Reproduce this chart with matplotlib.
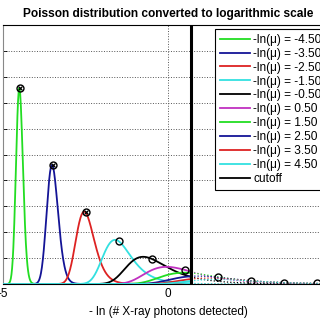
import math
import numpy as np
from matplotlib import pyplot as plt

plt.rcParams['font.family'] = ['Liberation Sans', 'DejaVu Sans']

# -ln(mu) for each Poisson curve (from the legend)
neg_ln_mu = [-4.5, -3.5, -2.5, -1.5, -0.5, 0.5, 1.5, 2.5, 3.5, 4.5]
colors = ['#22dd22', '#141496', '#dd2222', '#33e0e0', 'black',
          '#c030c0', '#22dd22', '#141496', '#dd2222', '#33e0e0']
cutoff = math.log(2)
x_ticks = [-5, 0, 5]
x_tick_labels = ['-5', '0', '']
y_ticks = np.arange(0, 5.01, 0.5)

lgamma = np.vectorize(math.lgamma)


def density(x, mu):
    # Poisson pmf with n = exp(-x), times dn/dx
    n = np.exp(-np.asarray(x, dtype=float))
    logp = n * np.log(mu) - mu - lgamma(n + 1)
    return n * np.exp(logp)


fig = plt.figure(figsize=(3.2, 3.2), dpi=100)
ax = fig.add_axes([3 / 320, 36 / 320, 330 / 320, 259 / 320])

x_in = np.linspace(-5, cutoff, 600)
x_out = np.linspace(cutoff, 5, 300)
for v, c in zip(neg_ln_mu, colors):
    mu = math.exp(-v)
    ax.plot(x_in, density(x_in, mu), color=c, lw=1.3,
            label='-ln(\u03bc) = %.2f' % v, zorder=3)
    ax.plot(x_out, density(x_out, mu), color=c, lw=0.9, ls=':', zorder=2)

peaks = [float(density(v, math.exp(-v))) for v in neg_ln_mu]
ax.plot(neg_ln_mu, peaks, 'o', mfc='none', mec='black', ms=5, mew=1.0, zorder=4)
ax.plot(neg_ln_mu[:3], peaks[:3], 'x', color='black', ms=3.5, mew=0.9, zorder=4)

ax.axvline(cutoff, color='black', lw=2.2, zorder=5)
ax.plot([], [], color='black', lw=1.3, label='cutoff')

ax.set_xlim(-5, 5)
ax.set_ylim(0, 5)
ax.set_xticks(x_ticks)
ax.set_xticklabels(x_tick_labels)
ax.set_yticks(y_ticks)
ax.tick_params(direction='in', length=3, labelsize=8.5, labelleft=False,
               pad=3, width=0.6)
ax.grid(True, ls=':', color='#555555', lw=0.7)
for s in ax.spines.values():
    s.set_color('black')
    s.set_linewidth(0.8)
ax.spines['left'].set_color('#888888')

ax.set_xlabel('- ln (# X-ray photons detected)', fontsize=8.5, labelpad=4)
ax.set_title('Poisson distribution converted to logarithmic scale',
             fontsize=8.6, fontweight='bold', pad=6)

leg = ax.legend(loc='upper left', bbox_to_anchor=(215 / 320, 1 - 29 / 320),
                bbox_transform=fig.transFigure, fontsize=8.6,
                labelspacing=0.16, handlelength=2.5, handletextpad=0.3,
                borderpad=0.4, borderaxespad=0, fancybox=False,
                framealpha=1, edgecolor='black')
leg.get_frame().set_linewidth(0.8)

fig.savefig('out.png', dpi=100)
